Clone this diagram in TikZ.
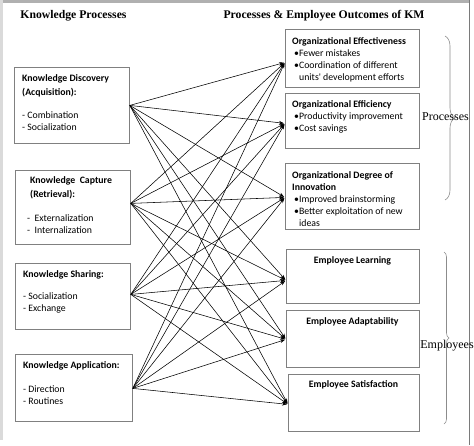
\documentclass[tikz,border=0pt]{standalone}
\usepackage{fontspec}
\setmainfont{Liberation Serif}
\newfontfamily\cbfont{Carlito}
\usetikzlibrary{arrows.meta,decorations.pathreplacing,calc}
\definecolor{boxgray}{HTML}{808080}
\definecolor{bracegray}{HTML}{8C8C8C}
\definecolor{topbar}{HTML}{B0B0B0}
\definecolor{leftbar}{HTML}{DADADA}
\definecolor{rightline}{HTML}{7A7A7A}
\begin{document}
\begin{tikzpicture}[x=1pt,y=-1pt,
  kbox/.style={draw=boxgray,line width=0.8pt,rectangle,inner sep=0pt,anchor=north west},
  ktext/.style={anchor=north west,inner sep=0pt,align=left,font=\cbfont\fontsize{9.8}{12}\selectfont},
  ttext/.style={anchor=north,inner sep=0pt,font=\cbfont\bfseries\fontsize{9.8}{12}\selectfont},
  title/.style={font=\bfseries\fontsize{11.7}{14}\selectfont,inner sep=0pt},
  side/.style={font=\fontsize{12}{14}\selectfont,inner sep=0pt},
  conn/.style={-{Stealth[length=5pt,width=3.6pt]},line width=0.55pt,shorten >=1pt},
  brc/.style={draw=bracegray,line width=0.6pt,decorate}]
\fill[white] (0,0) rectangle (474,445);
\useasboundingbox (0,0) rectangle (474,445);
% frame
\fill[topbar] (0,0) rectangle (470,3);
\fill[leftbar] (0,0) rectangle (3,440);
\draw[rightline,line width=1pt] (469.5,0) -- (469.5,445);
% titles
\node[title] (t1) at (73.5,16) {Knowledge Processes};
\node[title] (t2) at (324,16) {Processes \& Employee Outcomes of KM};
% left boxes
\node[kbox,minimum width=115pt,minimum height=76pt] (kd) at (14,67) {};
\node[kbox,minimum width=115pt,minimum height=74pt] (kc) at (15,170) {};
\node[kbox,minimum width=115pt,minimum height=66pt] (ks) at (15,263) {};
\node[kbox,minimum width=117pt,minimum height=67pt] (ka) at (15,354) {};
\node[ktext] (kdt) at (22,74) {\textbf{Knowledge Discovery}\\[2pt]\textbf{(Acquisition):}\\[11pt]- Combination\\- Socialization};
\node[ktext] (kct) at (30,176) {\textbf{Knowledge\ \ Capture}\\[2pt]\textbf{(Retrieval):}\\[12pt]\hspace*{-3pt}-\ \ Externalization\\\hspace*{-3pt}-\ \ Internalization};
\node[ktext] (kst) at (23,270) {\textbf{Knowledge Sharing:}\\[10pt]- Socialization\\- Exchange};
\node[ktext] (kat) at (23,361) {\textbf{Knowledge Application:}\\[12pt]- Direction\\- Routines};
% right boxes
\node[kbox,minimum width=134pt,minimum height=58pt] (oe) at (285,29) {};
\node[kbox,minimum width=134pt,minimum height=55pt] (of) at (285,93) {};
\node[kbox,minimum width=134pt,minimum height=66pt] (oi) at (285,163) {};
\node[kbox,minimum width=133pt,minimum height=54pt] (el) at (286,249) {};
\node[kbox,minimum width=133pt,minimum height=57pt] (ea) at (286,310) {};
\node[kbox,minimum width=131pt,minimum height=57pt] (es) at (288,374) {};
\node[ktext] (oet) at (292,37) {\textbf{Organizational Effectiveness}\\\hspace*{2pt}\textbullet Fewer mistakes\\\hspace*{2pt}\textbullet Coordination of different\\\hspace*{7pt}units' development efforts};
\node[ktext] (oft) at (292,100) {\textbf{Organizational Efficiency}\\\hspace*{2pt}\textbullet Productivity improvement\\\hspace*{2pt}\textbullet Cost savings};
\node[ktext] (oit) at (292,171) {\textbf{Organizational Degree of}\\\textbf{Innovation}\\\hspace*{2pt}\textbullet Improved brainstorming\\\hspace*{2pt}\textbullet Better exploitation of new\\\hspace*{7pt}ideas};
\node[ttext] (elt) at (352.5,256) {Employee Learning};
\node[ttext] (eat) at (352.5,317) {Employee Adaptability};
\node[ttext] (est) at (353.5,380) {Employee Satisfaction};
% braces
\draw[brc,decoration={brace,amplitude=10pt}] (445,36) -- (445,200);
\draw[brc,decoration={brace,amplitude=5pt}] (444,252) -- (444,424);
\node[side] (pl) at (445.5,117) {Processes};
\node[side] (eml) at (447,346) {Employees};
% connectors
\foreach \s/\sy in {kd/0,kc/-4,ks/-2,ka/0.5}
  \foreach \t/\ty in {oe/4,of/2.5,oi/1,el/4,ea/0.5,es/1.5}
    \draw[conn] ($(\s.east)+(0,\sy)$) -- ($(\t.west)+(0,\ty)$);
\end{tikzpicture}
\end{document}
